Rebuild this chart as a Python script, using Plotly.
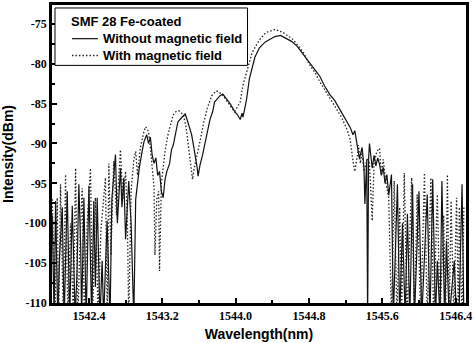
import plotly.graph_objects as go

# ---- data ----
wl_without = [
    1542.00, 1542.02, 1542.036, 1542.05, 1542.06, 1542.08, 1542.109, 1542.12, 1542.13, 1542.163,
    1542.18, 1542.19, 1542.218, 1542.23, 1542.25, 1542.27, 1542.29, 1542.31, 1542.32, 1542.345,
    1542.36, 1542.37, 1542.40, 1542.42, 1542.43, 1542.453, 1542.47, 1542.49, 1542.51, 1542.52,
    1542.544, 1542.56, 1542.598, 1542.61, 1542.63, 1542.65, 1542.689, 1542.71, 1542.744, 1542.76,
    1542.78, 1542.80, 1542.834, 1542.86, 1542.889, 1542.91, 1542.925, 1542.95, 1542.98,
    1543.00, 1543.03, 1543.05, 1543.07, 1543.09, 1543.11, 1543.13, 1543.15, 1543.17, 1543.19,
    1543.21, 1543.23, 1543.25, 1543.28, 1543.30, 1543.32, 1543.35, 1543.37, 1543.40, 1543.43,
    1543.45, 1543.47, 1543.50, 1543.52, 1543.54, 1543.56, 1543.58, 1543.59, 1543.61, 1543.64,
    1543.67, 1543.70, 1543.72, 1543.75, 1543.77, 1543.80, 1543.83, 1543.86, 1543.89, 1543.92,
    1543.94, 1543.97, 1543.99, 1544.02, 1544.05, 1544.07, 1544.08, 1544.10, 1544.12, 1544.15,
    1544.18, 1544.21, 1544.26, 1544.32, 1544.38, 1544.43, 1544.49, 1544.55, 1544.61, 1544.67,
    1544.72, 1544.78, 1544.83, 1544.88, 1544.92, 1544.97, 1545.03, 1545.08, 1545.13, 1545.18,
    1545.22, 1545.25, 1545.28, 1545.30, 1545.33, 1545.35, 1545.38, 1545.40, 1545.41, 1545.43,
    1545.44, 1545.45, 1545.46, 1545.49, 1545.51, 1545.53, 1545.55, 1545.57, 1545.59, 1545.61,
    1545.63, 1545.65, 1545.67, 1545.69, 1545.70, 1545.72, 1545.74, 1545.765, 1545.79, 1545.82,
    1545.85, 1545.874, 1545.90, 1545.93, 1545.95, 1545.97, 1546.00, 1546.03, 1546.06, 1546.09,
    1546.12, 1546.15, 1546.18, 1546.20, 1546.23, 1546.25, 1546.28, 1546.30, 1546.33, 1546.36,
    1546.385, 1546.41, 1546.44, 1546.47, 1546.49,
]
db_without = [
    -99.0, -112, -97.2, -105.0, -112, -104.0, -98.0, -106.0, -112, -96.0,
    -103.0, -112, -97.8, -104.0, -112, -106.0, -95.1, -103.0, -112, -96.8,
    -107.0, -112, -95.3, -104.0, -112, -97.2, -108.0, -96.8, -105.0, -112,
    -104.7, -112, -99.7, -106.0, -112, -97.0, -91.4, -100.0, -93.1, -98.0,
    -94.3, -102.0, -94.7, -100.0, -112, -97.0, -95.6, -93.0, -91.0,
    -89.8, -88.9, -90.0, -89.2, -91.5, -92.5, -91.8, -94.0, -93.5, -96.0,
    -96.8, -94.5, -93.5, -92.5, -90.8, -90.2, -88.5, -87.3, -86.9, -86.6,
    -86.3, -87.0, -88.0, -88.9, -90.2, -91.4, -93.0, -94.1, -92.8, -91.4,
    -89.8, -88.2, -87.0, -86.0, -84.8, -84.4, -84.0, -83.8, -84.2, -84.6,
    -85.0, -85.6, -86.0, -86.4, -87.0, -86.2, -86.7, -85.6, -84.4, -81.9,
    -80.4, -79.2, -78.0, -77.3, -76.9, -76.6, -76.45, -76.8, -77.2, -77.8,
    -78.6, -79.4, -80.2, -81.0, -81.6, -82.8, -83.9, -84.6, -85.6, -86.6,
    -87.4, -88.0, -88.9, -88.4, -90.5, -91.9, -90.5, -93.0, -97.6, -92.0,
    -112, -92.0, -90.0, -93.1, -91.5, -92.8, -91.8, -92.6, -94.0, -93.0,
    -95.0, -93.9, -96.5, -95.1, -93.9, -112, -104.0, -95.1, -112, -100.0,
    -112, -98.8, -112, -95.1, -112, -106.0, -96.0, -112, -104.0, -96.4,
    -112, -94.5, -112, -104.7, -112, -94.7, -112, -102.2, -112, -108.0,
    -104.7, -112, -110, -95.1, -112,
]

wl_with = [
    1542.00, 1542.03, 1542.054, 1542.07, 1542.09, 1542.12, 1542.145, 1542.17, 1542.20, 1542.23,
    1542.254, 1542.28, 1542.30, 1542.326, 1542.35, 1542.38, 1542.417, 1542.44, 1542.47, 1542.50,
    1542.53, 1542.58, 1542.60, 1542.617, 1542.64, 1542.67, 1542.70, 1542.744, 1542.77, 1542.80,
    1542.82, 1542.834, 1542.86, 1542.89, 1542.91, 1542.93, 1542.96, 1542.98, 1543.00, 1543.02,
    1543.05, 1543.07, 1543.09, 1543.11, 1543.12, 1543.14, 1543.16, 1543.17, 1543.19, 1543.21,
    1543.23, 1543.26, 1543.29, 1543.32, 1543.35, 1543.38, 1543.41, 1543.43, 1543.46, 1543.48,
    1543.51, 1543.53, 1543.55, 1543.58, 1543.61, 1543.65, 1543.69, 1543.74, 1543.79, 1543.85,
    1543.92, 1543.96, 1543.99, 1544.02, 1544.05, 1544.08, 1544.13, 1544.18, 1544.26, 1544.33,
    1544.43, 1544.52, 1544.63, 1544.74, 1544.80, 1544.87, 1544.92, 1544.97, 1545.03, 1545.10,
    1545.15, 1545.21, 1545.25, 1545.28, 1545.30, 1545.33, 1545.34, 1545.36, 1545.38, 1545.40,
    1545.44, 1545.46, 1545.49, 1545.51, 1545.54, 1545.57, 1545.59, 1545.61, 1545.64, 1545.67,
    1545.70, 1545.73, 1545.76, 1545.79, 1545.81, 1545.84, 1545.87, 1545.92, 1545.95, 1545.98,
    1546.02, 1546.06, 1546.09, 1546.13, 1546.16, 1546.20, 1546.23, 1546.27, 1546.29, 1546.31,
    1546.33, 1546.35, 1546.38, 1546.41, 1546.43, 1546.44, 1546.47, 1546.49,
]
db_with = [
    -97.0, -112, -96.8, -112, -95.1, -112, -93.9, -112, -100.0, -112,
    -93.1, -112, -103.0, -95.6, -112, -100.0, -93.1, -112, -96.8, -112,
    -101.0, -94.3, -112, -92.5, -104.0, -92.2, -99.0, -90.8, -97.0, -93.5,
    -100.0, -112, -96.0, -92.0, -91.0, -94.0, -90.6, -89.5, -88.5, -87.9,
    -88.5, -90.5, -93.0, -95.5, -104.0, -97.0, -96.0, -106.0, -95.0, -92.5,
    -91.0, -89.0, -87.5, -86.4, -86.0, -85.9, -86.2, -86.4, -88.0, -90.0,
    -92.5, -94.5, -93.0, -91.5, -89.8, -87.5, -85.6, -84.0, -83.4, -83.8,
    -85.0, -85.6, -86.0, -85.4, -84.8, -82.7, -80.5, -78.6, -77.0, -76.1,
    -75.7, -76.1, -77.0, -78.6, -80.0, -81.2, -82.3, -83.2, -84.4, -85.6,
    -86.6, -88.1, -89.5, -92.2, -93.5, -91.4, -90.2, -92.5, -91.0, -93.5,
    -91.8, -92.5, -99.7, -92.5, -91.0, -90.6, -94.0, -92.0, -95.0, -96.8,
    -112, -94.7, -112, -98.0, -112, -93.7, -112, -94.3, -112, -96.4,
    -112, -93.7, -112, -94.3, -112, -96.4, -112, -99.0, -112, -93.9,
    -112, -97.2, -112, -96.8, -112, -98.0, -112, -98.0,
]

x_tickvals = [1542.4, 1543.2, 1544.0, 1544.8, 1545.6, 1546.4]
x_ticktext = ["1542.4", "1543.2", "1544.0", "1544.8", "1545.6", "1546.4"]
y_tickvals = [-75, -80, -85, -90, -95, -100, -105, -110]
y_ticktext = ["-75", "-80", "-85", "-90", "-95", "-100", "-105", "-110"]

series_names = ["Without magnetic field", "With magnetic field"]
legend_title = "SMF 28 Fe-coated"

SANS = "Liberation Sans"
SERIF = "Liberation Serif"
DOT = "1.5px,2px"

fig = go.Figure()
fig.add_trace(go.Scatter(
    x=wl_without, y=db_without, mode="lines", name=series_names[0],
    line=dict(color="#111111", width=1.2), showlegend=False,
))
fig.add_trace(go.Scatter(
    x=wl_with, y=db_with, mode="lines", name=series_names[1],
    line=dict(color="#222222", width=1.3, dash=DOT), showlegend=False,
))

axis_common = dict(
    showline=True, linecolor="black", linewidth=2.5, mirror=True,
    ticks="inside", ticklen=5, tickwidth=2, tickcolor="black",
    showgrid=False, zeroline=False,
    tickfont=dict(family=SERIF, size=12, color="black"),
)

fig.update_xaxes(
    range=[1541.997, 1546.513],
    tickvals=x_tickvals, ticktext=["<b>%s</b>" % t for t in x_ticktext],
    minor=dict(ticks="inside", ticklen=3, tickwidth=2, tickcolor="black", dtick=0.4, tick0=1542.0),
    title=dict(text="<b>Wavelength(nm)</b>", font=dict(family=SANS, size=14, color="black"), standoff=8),
    **axis_common,
)
fig.update_yaxes(
    range=[-110, -72.64],
    tickvals=y_tickvals, ticktext=["<b>%s</b>" % t for t in y_ticktext],
    minor=dict(ticks="inside", ticklen=3, tickwidth=2, tickcolor="black", dtick=2.5, tick0=-110),
    title=dict(text="<b>Intensity(dBm)</b>", font=dict(family=SANS, size=14, color="black"), standoff=8),
    **axis_common,
)

# ---- manual legend box (paper coords: plot area is 415 x 301 px) ----
def px_x(p):
    return (p - 52) / 415.0

def px_y(p):
    return (303 - p) / 301.0

shapes = [
    dict(type="rect", xref="paper", yref="paper",
         x0=px_x(55), x1=px_x(248), y0=px_y(63), y1=px_y(5),
         line=dict(color="black", width=1), fillcolor="white", layer="above"),
    dict(type="line", xref="paper", yref="paper",
         x0=px_x(72), x1=px_x(98), y0=px_y(36), y1=px_y(36),
         line=dict(color="#111111", width=1.2), layer="above"),
    dict(type="line", xref="paper", yref="paper",
         x0=px_x(72), x1=px_x(98), y0=px_y(53), y1=px_y(53),
         line=dict(color="#222222", width=1.3, dash=DOT), layer="above"),
]
annotations = [
    dict(xref="paper", yref="paper", x=px_x(69), y=px_y(19), xanchor="left", yanchor="middle",
         text="<b>%s</b>" % legend_title, showarrow=False,
         font=dict(family=SANS, size=13, color="black")),
    dict(xref="paper", yref="paper", x=px_x(101), y=px_y(36), xanchor="left", yanchor="middle",
         text="<b>%s</b>" % series_names[0], showarrow=False,
         font=dict(family=SANS, size=13, color="black")),
    dict(xref="paper", yref="paper", x=px_x(101), y=px_y(53), xanchor="left", yanchor="middle",
         text="<b>%s</b>" % series_names[1], showarrow=False,
         font=dict(family=SANS, size=13, color="black")),
]

fig.update_layout(
    width=474, height=343,
    margin=dict(l=52, r=7, t=2, b=40),
    paper_bgcolor="white", plot_bgcolor="white",
    showlegend=False,
    shapes=shapes, annotations=annotations,
)

fig.write_html("out.html")
